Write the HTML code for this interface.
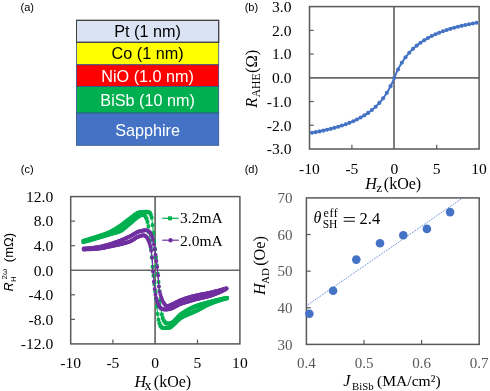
<!DOCTYPE html>
<html><head><meta charset="utf-8"><style>
html,body{margin:0;padding:0;background:#fff;width:490px;height:391px;overflow:hidden}
svg{display:block;will-change:transform;filter:blur(0.3px)}

</style></head><body>
<svg width="490" height="391" viewBox="0 0 490 391"><text x="20.6" y="11.2" font-family="Liberation Sans" font-size="11" fill="#000">(a)</text>
<text x="244.7" y="11.4" font-family="Liberation Sans" font-size="11" fill="#000">(b)</text>
<text x="20.8" y="172.8" font-family="Liberation Sans" font-size="11" fill="#000">(c)</text>
<text x="244.7" y="172.8" font-family="Liberation Sans" font-size="11" fill="#000">(d)</text>
<rect x="76.5" y="20.3" width="142.20" height="22.00" fill="#DAE3F3" stroke="#404040" stroke-width="1.0"/>
<rect x="76.5" y="42.3" width="142.20" height="22.50" fill="#FFFF00" stroke="#2F528F" stroke-width="0.8"/>
<rect x="76.5" y="64.8" width="142.20" height="21.60" fill="#FF0000" stroke="#2F528F" stroke-width="0.8"/>
<rect x="76.5" y="86.4" width="142.20" height="26.70" fill="#00B050" stroke="#2F528F" stroke-width="0.8"/>
<rect x="76.5" y="113.1" width="142.20" height="32.20" fill="#4472C4" stroke="#2F528F" stroke-width="0.8"/>
<text x="147.60" y="37.10" text-anchor="middle" font-family="Liberation Sans" font-size="16.2" fill="#000">Pt (1 nm)</text>
<text x="147.60" y="59.10" text-anchor="middle" font-family="Liberation Sans" font-size="16.2" fill="#000">Co (1 nm)</text>
<text x="147.60" y="81.70" text-anchor="middle" font-family="Liberation Sans" font-size="16.2" fill="#fff">NiO (1.0 nm)</text>
<text x="147.60" y="105.70" text-anchor="middle" font-family="Liberation Sans" font-size="16.2" fill="#fff">BiSb (10 nm)</text>
<text x="147.60" y="135.70" text-anchor="middle" font-family="Liberation Sans" font-size="16.2" fill="#fff">Sapphire</text>
<rect x="76.5" y="20.3" width="142.20" height="22.00" fill="none" stroke="#404040" stroke-width="1.0"/>
<line x1="309.5" y1="77.80" x2="479.1" y2="77.80" stroke="#686868" stroke-width="1.7"/>
<line x1="394.0" y1="6.6" x2="394.0" y2="149.0" stroke="#686868" stroke-width="1.7"/>
<line x1="309.5" y1="30.33" x2="313.8" y2="30.33" stroke="#595959" stroke-width="1.2"/>
<line x1="309.5" y1="54.07" x2="313.8" y2="54.07" stroke="#595959" stroke-width="1.2"/>
<line x1="309.5" y1="101.53" x2="313.8" y2="101.53" stroke="#595959" stroke-width="1.2"/>
<line x1="309.5" y1="125.27" x2="313.8" y2="125.27" stroke="#595959" stroke-width="1.2"/>
<line x1="351.90" y1="149.0" x2="351.90" y2="144.7" stroke="#595959" stroke-width="1.2"/>
<line x1="436.70" y1="149.0" x2="436.70" y2="144.7" stroke="#595959" stroke-width="1.2"/>
<rect x="309.5" y="6.6" width="169.60" height="142.40" fill="none" stroke="#595959" stroke-width="1.5"/>
<text x="291.50" y="11.90" text-anchor="end" font-family="Liberation Serif" font-size="15.6" fill="#000" >3.0</text>
<text x="291.50" y="35.63" text-anchor="end" font-family="Liberation Serif" font-size="15.6" fill="#000" >2.0</text>
<text x="291.50" y="59.37" text-anchor="end" font-family="Liberation Serif" font-size="15.6" fill="#000" >1.0</text>
<text x="291.50" y="83.10" text-anchor="end" font-family="Liberation Serif" font-size="15.6" fill="#000" >0.0</text>
<text x="291.50" y="106.83" text-anchor="end" font-family="Liberation Serif" font-size="15.6" fill="#000" >-1.0</text>
<text x="291.50" y="130.57" text-anchor="end" font-family="Liberation Serif" font-size="15.6" fill="#000" >-2.0</text>
<text x="291.50" y="154.30" text-anchor="end" font-family="Liberation Serif" font-size="15.6" fill="#000" >-3.0</text>
<text x="309.50" y="173.90" text-anchor="middle" font-family="Liberation Serif" font-size="15.6" fill="#000" >-10</text>
<text x="351.90" y="173.90" text-anchor="middle" font-family="Liberation Serif" font-size="15.6" fill="#000" >-5</text>
<text x="394.30" y="173.90" text-anchor="middle" font-family="Liberation Serif" font-size="15.6" fill="#000" >0</text>
<text x="436.70" y="173.90" text-anchor="middle" font-family="Liberation Serif" font-size="15.6" fill="#000" >5</text>
<text x="479.10" y="173.90" text-anchor="middle" font-family="Liberation Serif" font-size="15.6" fill="#000" >10</text>
<polyline fill="none" stroke="#4472C4" stroke-width="2.0" points="312.04,132.81 312.46,132.73 312.87,132.66 313.28,132.59 313.69,132.51 314.10,132.44 314.51,132.36 314.92,132.28 315.33,132.21 315.75,132.13 316.16,132.05 316.57,131.97 316.98,131.89 317.39,131.81 317.80,131.73 318.21,131.65 318.62,131.57 319.04,131.48 319.45,131.40 319.86,131.32 320.27,131.23 320.68,131.15 321.09,131.06 321.50,130.97 321.91,130.89 322.33,130.80 322.74,130.71 323.15,130.62 323.56,130.53 323.97,130.44 324.38,130.35 324.79,130.26 325.20,130.16 325.62,130.07 326.03,129.97 326.44,129.88 326.85,129.78 327.26,129.68 327.67,129.59 328.08,129.49 328.50,129.39 328.91,129.29 329.32,129.19 329.73,129.08 330.14,128.98 330.55,128.88 330.96,128.77 331.37,128.66 331.79,128.56 332.20,128.45 332.61,128.34 333.02,128.23 333.43,128.12 333.84,128.01 334.25,127.89 334.66,127.78 335.08,127.67 335.49,127.55 335.90,127.43 336.31,127.31 336.72,127.19 337.13,127.07 337.54,126.95 337.95,126.83 338.37,126.70 338.78,126.58 339.19,126.45 339.60,126.33 340.01,126.20 340.42,126.07 340.83,125.93 341.24,125.80 341.66,125.67 342.07,125.53 342.48,125.40 342.89,125.26 343.30,125.12 343.71,124.98 344.12,124.83 344.54,124.69 344.95,124.54 345.36,124.40 345.77,124.25 346.18,124.10 346.59,123.95 347.00,123.79 347.41,123.64 347.83,123.48 348.24,123.32 348.65,123.16 349.06,123.00 349.47,122.84 349.88,122.67 350.29,122.50 350.70,122.34 351.12,122.16 351.53,121.99 351.94,121.82 352.35,121.64 352.76,121.46 353.17,121.28 353.58,121.10 353.99,120.91 354.41,120.72 354.82,120.53 355.23,120.34 355.64,120.15 356.05,119.95 356.46,119.75 356.87,119.55 357.28,119.34 357.70,119.14 358.11,118.93 358.52,118.72 358.93,118.50 359.34,118.28 359.75,118.06 360.16,117.84 360.58,117.62 360.99,117.39 361.40,117.15 361.81,116.92 362.22,116.68 362.63,116.44 363.04,116.20 363.45,115.95 363.87,115.70 364.28,115.44 364.69,115.18 365.10,114.92 365.51,114.66 365.92,114.39 366.33,114.12 366.74,113.84 367.16,113.56 367.57,113.27 367.98,112.98 368.39,112.69 368.80,112.39 369.21,112.09 369.62,111.78 370.03,111.47 370.45,111.15 370.86,110.83 371.27,110.51 371.68,110.18 372.09,109.84 372.50,109.50 372.91,109.15 373.32,108.80 373.74,108.44 374.15,108.07 374.56,107.70 374.97,107.32 375.38,106.94 375.79,106.55 376.20,106.15 376.61,105.75 377.03,105.34 377.44,104.92 377.85,104.49 378.26,104.06 378.67,103.62 379.08,103.17 379.49,102.71 379.91,102.25 380.32,101.77 380.73,101.29 381.14,100.80 381.55,100.29 381.96,99.78 382.37,99.26 382.78,98.72 383.20,98.18 383.61,97.63 384.02,97.06 384.43,96.48 384.84,95.89 385.25,95.29 385.66,94.67 386.07,94.04 386.49,93.40 386.90,92.74 387.31,92.07 387.72,91.38 388.13,90.68 388.54,89.96 388.95,89.23 389.36,88.47 389.78,87.70 390.19,86.91 390.60,86.10 391.01,85.27 391.42,84.42 391.83,83.55 392.24,82.65 392.65,81.73 393.07,80.79 393.48,79.82 393.89,78.82 394.30,77.80 394.71,76.78 395.12,75.78 395.53,74.81 395.95,73.87 396.36,72.95 396.77,72.05 397.18,71.18 397.59,70.33 398.00,69.50 398.41,68.69 398.82,67.90 399.24,67.13 399.65,66.37 400.06,65.64 400.47,64.92 400.88,64.22 401.29,63.53 401.70,62.86 402.11,62.20 402.53,61.56 402.94,60.93 403.35,60.31 403.76,59.71 404.17,59.12 404.58,58.54 404.99,57.97 405.40,57.42 405.82,56.88 406.23,56.34 406.64,55.82 407.05,55.31 407.46,54.80 407.87,54.31 408.28,53.83 408.69,53.35 409.11,52.89 409.52,52.43 409.93,51.98 410.34,51.54 410.75,51.11 411.16,50.68 411.57,50.26 411.99,49.85 412.40,49.45 412.81,49.05 413.22,48.66 413.63,48.28 414.04,47.90 414.45,47.53 414.86,47.16 415.28,46.80 415.69,46.45 416.10,46.10 416.51,45.76 416.92,45.42 417.33,45.09 417.74,44.77 418.15,44.45 418.57,44.13 418.98,43.82 419.39,43.51 419.80,43.21 420.21,42.91 420.62,42.62 421.03,42.33 421.44,42.04 421.86,41.76 422.27,41.48 422.68,41.21 423.09,40.94 423.50,40.68 423.91,40.42 424.32,40.16 424.73,39.90 425.15,39.65 425.56,39.40 425.97,39.16 426.38,38.92 426.79,38.68 427.20,38.45 427.61,38.21 428.02,37.98 428.44,37.76 428.85,37.54 429.26,37.32 429.67,37.10 430.08,36.88 430.49,36.67 430.90,36.46 431.32,36.26 431.73,36.05 432.14,35.85 432.55,35.65 432.96,35.45 433.37,35.26 433.78,35.07 434.19,34.88 434.61,34.69 435.02,34.50 435.43,34.32 435.84,34.14 436.25,33.96 436.66,33.78 437.07,33.61 437.48,33.44 437.90,33.26 438.31,33.10 438.72,32.93 439.13,32.76 439.54,32.60 439.95,32.44 440.36,32.28 440.77,32.12 441.19,31.96 441.60,31.81 442.01,31.65 442.42,31.50 442.83,31.35 443.24,31.20 443.65,31.06 444.06,30.91 444.48,30.77 444.89,30.62 445.30,30.48 445.71,30.34 446.12,30.20 446.53,30.07 446.94,29.93 447.36,29.80 447.77,29.67 448.18,29.53 448.59,29.40 449.00,29.27 449.41,29.15 449.82,29.02 450.23,28.90 450.65,28.77 451.06,28.65 451.47,28.53 451.88,28.41 452.29,28.29 452.70,28.17 453.11,28.05 453.52,27.93 453.94,27.82 454.35,27.71 454.76,27.59 455.17,27.48 455.58,27.37 455.99,27.26 456.40,27.15 456.81,27.04 457.23,26.94 457.64,26.83 458.05,26.72 458.46,26.62 458.87,26.52 459.28,26.41 459.69,26.31 460.10,26.21 460.52,26.11 460.93,26.01 461.34,25.92 461.75,25.82 462.16,25.72 462.57,25.63 462.98,25.53 463.40,25.44 463.81,25.34 464.22,25.25 464.63,25.16 465.04,25.07 465.45,24.98 465.86,24.89 466.27,24.80 466.69,24.71 467.10,24.63 467.51,24.54 467.92,24.45 468.33,24.37 468.74,24.28 469.15,24.20 469.56,24.12 469.98,24.03 470.39,23.95 470.80,23.87 471.21,23.79 471.62,23.71 472.03,23.63 472.44,23.55 472.85,23.47 473.27,23.39 473.68,23.32 474.09,23.24 474.50,23.16 474.91,23.09 475.32,23.01 475.73,22.94 476.14,22.87 476.56,22.79"/>
<g fill="#4472C4"><circle cx="312.04" cy="132.81" r="2.05"/><circle cx="315.78" cy="132.12" r="2.05"/><circle cx="319.52" cy="131.39" r="2.05"/><circle cx="323.26" cy="130.60" r="2.05"/><circle cx="327.00" cy="129.75" r="2.05"/><circle cx="330.74" cy="128.83" r="2.05"/><circle cx="334.48" cy="127.83" r="2.05"/><circle cx="338.22" cy="126.75" r="2.05"/><circle cx="341.96" cy="125.57" r="2.05"/><circle cx="345.69" cy="124.28" r="2.05"/><circle cx="349.43" cy="122.85" r="2.05"/><circle cx="353.17" cy="121.28" r="2.05"/><circle cx="356.91" cy="119.53" r="2.05"/><circle cx="360.65" cy="117.57" r="2.05"/><circle cx="364.39" cy="115.37" r="2.05"/><circle cx="368.13" cy="112.88" r="2.05"/><circle cx="371.87" cy="110.02" r="2.05"/><circle cx="375.61" cy="106.73" r="2.05"/><circle cx="379.34" cy="102.88" r="2.05"/><circle cx="383.08" cy="98.33" r="2.05"/><circle cx="386.82" cy="92.86" r="2.05"/><circle cx="390.56" cy="86.17" r="2.05"/><circle cx="394.30" cy="77.80" r="2.05"/><circle cx="398.04" cy="69.43" r="2.05"/><circle cx="401.78" cy="62.74" r="2.05"/><circle cx="405.52" cy="57.27" r="2.05"/><circle cx="409.26" cy="52.72" r="2.05"/><circle cx="412.99" cy="48.87" r="2.05"/><circle cx="416.73" cy="45.58" r="2.05"/><circle cx="420.47" cy="42.72" r="2.05"/><circle cx="424.21" cy="40.23" r="2.05"/><circle cx="427.95" cy="38.03" r="2.05"/><circle cx="431.69" cy="36.07" r="2.05"/><circle cx="435.43" cy="34.32" r="2.05"/><circle cx="439.17" cy="32.75" r="2.05"/><circle cx="442.91" cy="31.32" r="2.05"/><circle cx="446.64" cy="30.03" r="2.05"/><circle cx="450.38" cy="28.85" r="2.05"/><circle cx="454.12" cy="27.77" r="2.05"/><circle cx="457.86" cy="26.77" r="2.05"/><circle cx="461.60" cy="25.85" r="2.05"/><circle cx="465.34" cy="25.00" r="2.05"/><circle cx="469.08" cy="24.21" r="2.05"/><circle cx="472.82" cy="23.48" r="2.05"/><circle cx="476.56" cy="22.79" r="2.05"/></g>
<g transform="translate(257.3,107.2) rotate(-90)" font-family="Liberation Serif" fill="#000"><text x="-0.5" y="0" font-size="16.3" font-style="italic">R</text><text x="10" y="3" font-size="11.5">AHE</text><text x="34.2" y="0" font-size="16.5">(Ω)</text></g>
<g font-family="Liberation Serif" fill="#000"><text x="365.2" y="188.6" font-size="16" font-style="italic">H</text><text x="376.2" y="191.6" font-size="13.5">z</text><text x="383.8" y="189" font-size="16">(kOe)</text></g>
<line x1="70.7" y1="270.25" x2="239.9" y2="270.25" stroke="#686868" stroke-width="1.7"/>
<line x1="155.1" y1="196.6" x2="155.1" y2="343.9" stroke="#686868" stroke-width="1.7"/>
<line x1="70.7" y1="221.15" x2="75.0" y2="221.15" stroke="#595959" stroke-width="1.2"/>
<line x1="70.7" y1="245.70" x2="75.0" y2="245.70" stroke="#595959" stroke-width="1.2"/>
<line x1="70.7" y1="294.80" x2="75.0" y2="294.80" stroke="#595959" stroke-width="1.2"/>
<line x1="70.7" y1="319.35" x2="75.0" y2="319.35" stroke="#595959" stroke-width="1.2"/>
<line x1="112.90" y1="343.9" x2="112.90" y2="339.59999999999997" stroke="#595959" stroke-width="1.2"/>
<line x1="197.50" y1="343.9" x2="197.50" y2="339.59999999999997" stroke="#595959" stroke-width="1.2"/>
<rect x="70.7" y="196.6" width="169.20" height="147.30" fill="none" stroke="#595959" stroke-width="1.5"/>
<text x="53.30" y="201.90" text-anchor="end" font-family="Liberation Serif" font-size="15.6" fill="#000" >12.0</text>
<text x="53.30" y="226.45" text-anchor="end" font-family="Liberation Serif" font-size="15.6" fill="#000" >8.0</text>
<text x="53.30" y="251.00" text-anchor="end" font-family="Liberation Serif" font-size="15.6" fill="#000" >4.0</text>
<text x="53.30" y="275.55" text-anchor="end" font-family="Liberation Serif" font-size="15.6" fill="#000" >0.0</text>
<text x="53.30" y="300.10" text-anchor="end" font-family="Liberation Serif" font-size="15.6" fill="#000" >-4.0</text>
<text x="53.30" y="324.65" text-anchor="end" font-family="Liberation Serif" font-size="15.6" fill="#000" >-8.0</text>
<text x="53.30" y="349.20" text-anchor="end" font-family="Liberation Serif" font-size="15.6" fill="#000" >-12.0</text>
<text x="70.70" y="367.90" text-anchor="middle" font-family="Liberation Serif" font-size="15.6" fill="#000" >-10</text>
<text x="112.90" y="367.90" text-anchor="middle" font-family="Liberation Serif" font-size="15.6" fill="#000" >-5</text>
<text x="155.10" y="367.90" text-anchor="middle" font-family="Liberation Serif" font-size="15.6" fill="#000" >0</text>
<text x="197.50" y="367.90" text-anchor="middle" font-family="Liberation Serif" font-size="15.6" fill="#000" >5</text>
<text x="239.90" y="367.90" text-anchor="middle" font-family="Liberation Serif" font-size="15.6" fill="#000" >10</text>
<polyline fill="none" stroke="#00B050" stroke-width="1.1" points="83.30,241.00 84.14,240.75 84.99,240.50 85.83,240.25 86.68,239.99 87.52,239.73 88.37,239.47 89.21,239.21 90.06,238.95 90.90,238.68 91.75,238.42 92.59,238.15 93.44,237.88 94.28,237.60 95.13,237.33 95.97,237.07 96.82,236.80 97.66,236.54 98.51,236.27 99.35,236.01 100.20,235.74 101.04,235.47 101.89,235.20 102.73,234.92 103.58,234.63 104.42,234.33 105.27,234.03 106.11,233.71 106.96,233.38 107.80,233.04 108.65,232.68 109.49,232.30 110.34,231.90 111.18,231.48 112.03,231.04 112.87,230.58 113.72,230.10 114.56,229.61 115.41,229.11 116.25,228.59 117.10,228.06 117.94,227.53 118.79,226.99 119.63,226.44 120.48,225.88 121.32,225.29 122.17,224.67 123.01,224.02 123.86,223.36 124.70,222.68 125.55,222.00 126.39,221.32 127.24,220.65 128.08,220.00 128.93,219.36 129.77,218.76 130.62,218.16 131.46,217.53 132.31,216.87 133.15,216.21 134.00,215.55 134.84,214.91 135.69,214.30 136.53,213.75 137.38,213.25 138.22,212.84 139.07,212.52 139.91,212.31 140.76,212.18 141.60,212.05 142.45,211.94 143.29,211.85 144.14,211.77 144.98,211.72 145.83,211.70 146.67,211.74 147.52,211.90 148.36,212.18 149.21,212.55 150.05,213.21 150.90,214.81 151.74,217.64 152.59,225.05 153.43,232.96 154.28,241.05 155.12,249.28 155.97,257.39 156.81,265.54 157.66,273.73 158.50,281.98 159.35,291.13 160.19,300.45 161.04,308.69 161.88,314.42 162.73,318.00 163.57,320.29 164.42,321.54 165.26,322.56 166.11,323.28 166.95,323.59 167.80,323.59 168.64,323.54 169.49,323.46 170.33,323.37 171.18,323.13 172.02,322.71 172.87,322.16 173.71,321.47 174.56,320.70 175.40,319.85 176.25,318.96 177.09,318.04 177.94,317.13 178.78,316.25 179.63,315.43 180.47,314.69 181.32,314.05 182.16,313.50 183.01,312.95 183.85,312.41 184.70,311.88 185.54,311.36 186.39,310.85 187.23,310.35 188.08,309.87 188.92,309.40 189.77,308.94 190.61,308.50 191.46,308.08 192.30,307.67 193.15,307.27 193.99,306.90 194.84,306.54 195.68,306.21 196.53,305.89 197.37,305.58 198.22,305.28 199.06,305.00 199.91,304.73 200.75,304.46 201.60,304.21 202.44,303.96 203.29,303.72 204.13,303.48 204.98,303.25 205.82,303.02 206.67,302.79 207.51,302.57 208.36,302.34 209.20,302.12 210.05,301.89 210.89,301.66 211.74,301.43 212.58,301.21 213.43,300.98 214.27,300.76 215.12,300.54 215.96,300.32 216.81,300.11 217.65,299.90 218.50,299.69 219.34,299.48 220.19,299.27 221.03,299.07 221.88,298.87 222.72,298.67 223.57,298.47 224.41,298.28 225.26,298.09 226.10,297.90 226.95,297.71"/>
<g fill="#00B050"><rect x="81.50" y="239.20" width="3.6" height="3.6"/><rect x="82.34" y="238.95" width="3.6" height="3.6"/><rect x="83.19" y="238.70" width="3.6" height="3.6"/><rect x="84.03" y="238.45" width="3.6" height="3.6"/><rect x="84.88" y="238.19" width="3.6" height="3.6"/><rect x="85.72" y="237.93" width="3.6" height="3.6"/><rect x="86.57" y="237.67" width="3.6" height="3.6"/><rect x="87.41" y="237.41" width="3.6" height="3.6"/><rect x="88.26" y="237.15" width="3.6" height="3.6"/><rect x="89.10" y="236.88" width="3.6" height="3.6"/><rect x="89.95" y="236.62" width="3.6" height="3.6"/><rect x="90.79" y="236.35" width="3.6" height="3.6"/><rect x="91.64" y="236.08" width="3.6" height="3.6"/><rect x="92.48" y="235.80" width="3.6" height="3.6"/><rect x="93.33" y="235.53" width="3.6" height="3.6"/><rect x="94.17" y="235.27" width="3.6" height="3.6"/><rect x="95.02" y="235.00" width="3.6" height="3.6"/><rect x="95.86" y="234.74" width="3.6" height="3.6"/><rect x="96.71" y="234.47" width="3.6" height="3.6"/><rect x="97.55" y="234.21" width="3.6" height="3.6"/><rect x="98.40" y="233.94" width="3.6" height="3.6"/><rect x="99.24" y="233.67" width="3.6" height="3.6"/><rect x="100.09" y="233.40" width="3.6" height="3.6"/><rect x="100.93" y="233.12" width="3.6" height="3.6"/><rect x="101.78" y="232.83" width="3.6" height="3.6"/><rect x="102.62" y="232.53" width="3.6" height="3.6"/><rect x="103.47" y="232.23" width="3.6" height="3.6"/><rect x="104.31" y="231.91" width="3.6" height="3.6"/><rect x="105.16" y="231.58" width="3.6" height="3.6"/><rect x="106.00" y="231.24" width="3.6" height="3.6"/><rect x="106.85" y="230.88" width="3.6" height="3.6"/><rect x="107.69" y="230.50" width="3.6" height="3.6"/><rect x="108.54" y="230.10" width="3.6" height="3.6"/><rect x="109.38" y="229.68" width="3.6" height="3.6"/><rect x="110.23" y="229.24" width="3.6" height="3.6"/><rect x="111.07" y="228.78" width="3.6" height="3.6"/><rect x="111.92" y="228.30" width="3.6" height="3.6"/><rect x="112.76" y="227.81" width="3.6" height="3.6"/><rect x="113.61" y="227.31" width="3.6" height="3.6"/><rect x="114.45" y="226.79" width="3.6" height="3.6"/><rect x="115.30" y="226.26" width="3.6" height="3.6"/><rect x="116.14" y="225.73" width="3.6" height="3.6"/><rect x="116.99" y="225.19" width="3.6" height="3.6"/><rect x="117.83" y="224.64" width="3.6" height="3.6"/><rect x="118.68" y="224.08" width="3.6" height="3.6"/><rect x="119.52" y="223.49" width="3.6" height="3.6"/><rect x="120.37" y="222.87" width="3.6" height="3.6"/><rect x="121.21" y="222.22" width="3.6" height="3.6"/><rect x="122.06" y="221.56" width="3.6" height="3.6"/><rect x="122.90" y="220.88" width="3.6" height="3.6"/><rect x="123.75" y="220.20" width="3.6" height="3.6"/><rect x="124.59" y="219.52" width="3.6" height="3.6"/><rect x="125.44" y="218.85" width="3.6" height="3.6"/><rect x="126.28" y="218.20" width="3.6" height="3.6"/><rect x="127.13" y="217.56" width="3.6" height="3.6"/><rect x="127.97" y="216.96" width="3.6" height="3.6"/><rect x="128.82" y="216.36" width="3.6" height="3.6"/><rect x="129.66" y="215.73" width="3.6" height="3.6"/><rect x="130.51" y="215.07" width="3.6" height="3.6"/><rect x="131.35" y="214.41" width="3.6" height="3.6"/><rect x="132.20" y="213.75" width="3.6" height="3.6"/><rect x="133.04" y="213.11" width="3.6" height="3.6"/><rect x="133.89" y="212.50" width="3.6" height="3.6"/><rect x="134.73" y="211.95" width="3.6" height="3.6"/><rect x="135.58" y="211.45" width="3.6" height="3.6"/><rect x="136.42" y="211.04" width="3.6" height="3.6"/><rect x="137.27" y="210.72" width="3.6" height="3.6"/><rect x="138.11" y="210.51" width="3.6" height="3.6"/><rect x="138.96" y="210.38" width="3.6" height="3.6"/><rect x="139.80" y="210.25" width="3.6" height="3.6"/><rect x="140.65" y="210.14" width="3.6" height="3.6"/><rect x="141.49" y="210.05" width="3.6" height="3.6"/><rect x="142.34" y="209.97" width="3.6" height="3.6"/><rect x="143.18" y="209.92" width="3.6" height="3.6"/><rect x="144.03" y="209.90" width="3.6" height="3.6"/><rect x="144.87" y="209.94" width="3.6" height="3.6"/><rect x="145.72" y="210.10" width="3.6" height="3.6"/><rect x="146.56" y="210.38" width="3.6" height="3.6"/><rect x="147.41" y="210.75" width="3.6" height="3.6"/><rect x="148.25" y="211.41" width="3.6" height="3.6"/><rect x="149.10" y="213.01" width="3.6" height="3.6"/><rect x="149.94" y="215.84" width="3.6" height="3.6"/><rect x="150.79" y="223.25" width="3.6" height="3.6"/><rect x="151.63" y="231.16" width="3.6" height="3.6"/><rect x="152.48" y="239.25" width="3.6" height="3.6"/><rect x="153.32" y="247.48" width="3.6" height="3.6"/><rect x="154.17" y="255.59" width="3.6" height="3.6"/><rect x="155.01" y="263.74" width="3.6" height="3.6"/><rect x="155.86" y="271.93" width="3.6" height="3.6"/><rect x="156.70" y="280.18" width="3.6" height="3.6"/><rect x="157.55" y="289.33" width="3.6" height="3.6"/><rect x="158.39" y="298.65" width="3.6" height="3.6"/><rect x="159.24" y="306.89" width="3.6" height="3.6"/><rect x="160.08" y="312.62" width="3.6" height="3.6"/><rect x="160.93" y="316.20" width="3.6" height="3.6"/><rect x="161.77" y="318.49" width="3.6" height="3.6"/><rect x="162.62" y="319.74" width="3.6" height="3.6"/><rect x="163.46" y="320.76" width="3.6" height="3.6"/><rect x="164.31" y="321.48" width="3.6" height="3.6"/><rect x="165.15" y="321.79" width="3.6" height="3.6"/><rect x="166.00" y="321.79" width="3.6" height="3.6"/><rect x="166.84" y="321.74" width="3.6" height="3.6"/><rect x="167.69" y="321.66" width="3.6" height="3.6"/><rect x="168.53" y="321.57" width="3.6" height="3.6"/><rect x="169.38" y="321.33" width="3.6" height="3.6"/><rect x="170.22" y="320.91" width="3.6" height="3.6"/><rect x="171.07" y="320.36" width="3.6" height="3.6"/><rect x="171.91" y="319.67" width="3.6" height="3.6"/><rect x="172.76" y="318.90" width="3.6" height="3.6"/><rect x="173.60" y="318.05" width="3.6" height="3.6"/><rect x="174.45" y="317.16" width="3.6" height="3.6"/><rect x="175.29" y="316.24" width="3.6" height="3.6"/><rect x="176.14" y="315.33" width="3.6" height="3.6"/><rect x="176.98" y="314.45" width="3.6" height="3.6"/><rect x="177.83" y="313.63" width="3.6" height="3.6"/><rect x="178.67" y="312.89" width="3.6" height="3.6"/><rect x="179.52" y="312.25" width="3.6" height="3.6"/><rect x="180.36" y="311.70" width="3.6" height="3.6"/><rect x="181.21" y="311.15" width="3.6" height="3.6"/><rect x="182.05" y="310.61" width="3.6" height="3.6"/><rect x="182.90" y="310.08" width="3.6" height="3.6"/><rect x="183.74" y="309.56" width="3.6" height="3.6"/><rect x="184.59" y="309.05" width="3.6" height="3.6"/><rect x="185.43" y="308.55" width="3.6" height="3.6"/><rect x="186.28" y="308.07" width="3.6" height="3.6"/><rect x="187.12" y="307.60" width="3.6" height="3.6"/><rect x="187.97" y="307.14" width="3.6" height="3.6"/><rect x="188.81" y="306.70" width="3.6" height="3.6"/><rect x="189.66" y="306.28" width="3.6" height="3.6"/><rect x="190.50" y="305.87" width="3.6" height="3.6"/><rect x="191.35" y="305.47" width="3.6" height="3.6"/><rect x="192.19" y="305.10" width="3.6" height="3.6"/><rect x="193.04" y="304.74" width="3.6" height="3.6"/><rect x="193.88" y="304.41" width="3.6" height="3.6"/><rect x="194.73" y="304.09" width="3.6" height="3.6"/><rect x="195.57" y="303.78" width="3.6" height="3.6"/><rect x="196.42" y="303.48" width="3.6" height="3.6"/><rect x="197.26" y="303.20" width="3.6" height="3.6"/><rect x="198.11" y="302.93" width="3.6" height="3.6"/><rect x="198.95" y="302.66" width="3.6" height="3.6"/><rect x="199.80" y="302.41" width="3.6" height="3.6"/><rect x="200.64" y="302.16" width="3.6" height="3.6"/><rect x="201.49" y="301.92" width="3.6" height="3.6"/><rect x="202.33" y="301.68" width="3.6" height="3.6"/><rect x="203.18" y="301.45" width="3.6" height="3.6"/><rect x="204.02" y="301.22" width="3.6" height="3.6"/><rect x="204.87" y="300.99" width="3.6" height="3.6"/><rect x="205.71" y="300.77" width="3.6" height="3.6"/><rect x="206.56" y="300.54" width="3.6" height="3.6"/><rect x="207.40" y="300.32" width="3.6" height="3.6"/><rect x="208.25" y="300.09" width="3.6" height="3.6"/><rect x="209.09" y="299.86" width="3.6" height="3.6"/><rect x="209.94" y="299.63" width="3.6" height="3.6"/><rect x="210.78" y="299.41" width="3.6" height="3.6"/><rect x="211.63" y="299.18" width="3.6" height="3.6"/><rect x="212.47" y="298.96" width="3.6" height="3.6"/><rect x="213.32" y="298.74" width="3.6" height="3.6"/><rect x="214.16" y="298.52" width="3.6" height="3.6"/><rect x="215.01" y="298.31" width="3.6" height="3.6"/><rect x="215.85" y="298.10" width="3.6" height="3.6"/><rect x="216.70" y="297.89" width="3.6" height="3.6"/><rect x="217.54" y="297.68" width="3.6" height="3.6"/><rect x="218.39" y="297.47" width="3.6" height="3.6"/><rect x="219.23" y="297.27" width="3.6" height="3.6"/><rect x="220.08" y="297.07" width="3.6" height="3.6"/><rect x="220.92" y="296.87" width="3.6" height="3.6"/><rect x="221.77" y="296.67" width="3.6" height="3.6"/><rect x="222.61" y="296.48" width="3.6" height="3.6"/><rect x="223.46" y="296.29" width="3.6" height="3.6"/><rect x="224.30" y="296.10" width="3.6" height="3.6"/><rect x="225.15" y="295.91" width="3.6" height="3.6"/></g>
<polyline fill="none" stroke="#00B050" stroke-width="1.1" points="83.30,242.00 84.14,241.77 84.99,241.54 85.83,241.30 86.68,241.07 87.52,240.83 88.37,240.59 89.21,240.36 90.06,240.12 90.90,239.88 91.75,239.64 92.59,239.39 93.44,239.15 94.28,238.90 95.13,238.66 95.97,238.41 96.82,238.16 97.66,237.91 98.51,237.66 99.35,237.41 100.20,237.15 101.04,236.90 101.89,236.64 102.73,236.38 103.58,236.13 104.42,235.87 105.27,235.61 106.11,235.36 106.96,235.10 107.80,234.84 108.65,234.58 109.49,234.34 110.34,234.10 111.18,233.87 112.03,233.65 112.87,233.43 113.72,233.21 114.56,232.98 115.41,232.74 116.25,232.48 117.10,232.21 117.94,231.92 118.79,231.60 119.63,231.26 120.48,230.87 121.32,230.41 122.17,229.87 123.01,229.26 123.86,228.61 124.70,227.91 125.55,227.19 126.39,226.45 127.24,225.71 128.08,224.98 128.93,224.26 129.77,223.58 130.62,222.91 131.46,222.20 132.31,221.46 133.15,220.70 134.00,219.94 134.84,219.19 135.69,218.46 136.53,217.77 137.38,217.13 138.22,216.55 139.07,216.05 139.91,215.64 140.76,215.27 141.60,214.92 142.45,214.65 143.29,214.51 144.14,214.74 144.98,215.69 145.83,217.14 146.67,218.91 147.52,221.91 148.36,226.23 149.21,232.48 150.05,240.51 150.90,248.63 151.74,257.29 152.59,266.78 153.43,275.77 154.28,283.90 155.12,291.25 155.97,298.55 156.81,306.58 157.66,313.97 158.50,319.69 159.35,323.19 160.19,325.53 161.04,326.60 161.88,327.38 162.73,327.93 163.57,328.19 164.42,328.20 165.26,328.20 166.11,328.20 166.95,328.20 167.80,328.14 168.64,327.94 169.49,327.59 170.33,327.12 171.18,326.55 172.02,325.89 172.87,325.16 173.71,324.37 174.56,323.54 175.40,322.70 176.25,321.84 177.09,321.00 177.94,320.19 178.78,319.42 179.63,318.71 180.47,318.08 181.32,317.55 182.16,317.08 183.01,316.64 183.85,316.22 184.70,315.82 185.54,315.43 186.39,315.06 187.23,314.70 188.08,314.35 188.92,314.00 189.77,313.65 190.61,313.31 191.46,312.96 192.30,312.61 193.15,312.25 193.99,311.88 194.84,311.50 195.68,311.11 196.53,310.70 197.37,310.27 198.22,309.83 199.06,309.38 199.91,308.92 200.75,308.46 201.60,308.00 202.44,307.53 203.29,307.07 204.13,306.61 204.98,306.16 205.82,305.73 206.67,305.30 207.51,304.89 208.36,304.50 209.20,304.13 210.05,303.78 210.89,303.45 211.74,303.12 212.58,302.79 213.43,302.47 214.27,302.16 215.12,301.85 215.96,301.54 216.81,301.25 217.65,300.96 218.50,300.67 219.34,300.40 220.19,300.13 221.03,299.87 221.88,299.62 222.72,299.38 223.57,299.15 224.41,298.92 225.26,298.71 226.10,298.50 226.95,298.31"/>
<g fill="#00B050"><rect x="81.50" y="240.20" width="3.6" height="3.6"/><rect x="82.34" y="239.97" width="3.6" height="3.6"/><rect x="83.19" y="239.74" width="3.6" height="3.6"/><rect x="84.03" y="239.50" width="3.6" height="3.6"/><rect x="84.88" y="239.27" width="3.6" height="3.6"/><rect x="85.72" y="239.03" width="3.6" height="3.6"/><rect x="86.57" y="238.79" width="3.6" height="3.6"/><rect x="87.41" y="238.56" width="3.6" height="3.6"/><rect x="88.26" y="238.32" width="3.6" height="3.6"/><rect x="89.10" y="238.08" width="3.6" height="3.6"/><rect x="89.95" y="237.84" width="3.6" height="3.6"/><rect x="90.79" y="237.59" width="3.6" height="3.6"/><rect x="91.64" y="237.35" width="3.6" height="3.6"/><rect x="92.48" y="237.10" width="3.6" height="3.6"/><rect x="93.33" y="236.86" width="3.6" height="3.6"/><rect x="94.17" y="236.61" width="3.6" height="3.6"/><rect x="95.02" y="236.36" width="3.6" height="3.6"/><rect x="95.86" y="236.11" width="3.6" height="3.6"/><rect x="96.71" y="235.86" width="3.6" height="3.6"/><rect x="97.55" y="235.61" width="3.6" height="3.6"/><rect x="98.40" y="235.35" width="3.6" height="3.6"/><rect x="99.24" y="235.10" width="3.6" height="3.6"/><rect x="100.09" y="234.84" width="3.6" height="3.6"/><rect x="100.93" y="234.58" width="3.6" height="3.6"/><rect x="101.78" y="234.33" width="3.6" height="3.6"/><rect x="102.62" y="234.07" width="3.6" height="3.6"/><rect x="103.47" y="233.81" width="3.6" height="3.6"/><rect x="104.31" y="233.56" width="3.6" height="3.6"/><rect x="105.16" y="233.30" width="3.6" height="3.6"/><rect x="106.00" y="233.04" width="3.6" height="3.6"/><rect x="106.85" y="232.78" width="3.6" height="3.6"/><rect x="107.69" y="232.54" width="3.6" height="3.6"/><rect x="108.54" y="232.30" width="3.6" height="3.6"/><rect x="109.38" y="232.07" width="3.6" height="3.6"/><rect x="110.23" y="231.85" width="3.6" height="3.6"/><rect x="111.07" y="231.63" width="3.6" height="3.6"/><rect x="111.92" y="231.41" width="3.6" height="3.6"/><rect x="112.76" y="231.18" width="3.6" height="3.6"/><rect x="113.61" y="230.94" width="3.6" height="3.6"/><rect x="114.45" y="230.68" width="3.6" height="3.6"/><rect x="115.30" y="230.41" width="3.6" height="3.6"/><rect x="116.14" y="230.12" width="3.6" height="3.6"/><rect x="116.99" y="229.80" width="3.6" height="3.6"/><rect x="117.83" y="229.46" width="3.6" height="3.6"/><rect x="118.68" y="229.07" width="3.6" height="3.6"/><rect x="119.52" y="228.61" width="3.6" height="3.6"/><rect x="120.37" y="228.07" width="3.6" height="3.6"/><rect x="121.21" y="227.46" width="3.6" height="3.6"/><rect x="122.06" y="226.81" width="3.6" height="3.6"/><rect x="122.90" y="226.11" width="3.6" height="3.6"/><rect x="123.75" y="225.39" width="3.6" height="3.6"/><rect x="124.59" y="224.65" width="3.6" height="3.6"/><rect x="125.44" y="223.91" width="3.6" height="3.6"/><rect x="126.28" y="223.18" width="3.6" height="3.6"/><rect x="127.13" y="222.46" width="3.6" height="3.6"/><rect x="127.97" y="221.78" width="3.6" height="3.6"/><rect x="128.82" y="221.11" width="3.6" height="3.6"/><rect x="129.66" y="220.40" width="3.6" height="3.6"/><rect x="130.51" y="219.66" width="3.6" height="3.6"/><rect x="131.35" y="218.90" width="3.6" height="3.6"/><rect x="132.20" y="218.14" width="3.6" height="3.6"/><rect x="133.04" y="217.39" width="3.6" height="3.6"/><rect x="133.89" y="216.66" width="3.6" height="3.6"/><rect x="134.73" y="215.97" width="3.6" height="3.6"/><rect x="135.58" y="215.33" width="3.6" height="3.6"/><rect x="136.42" y="214.75" width="3.6" height="3.6"/><rect x="137.27" y="214.25" width="3.6" height="3.6"/><rect x="138.11" y="213.84" width="3.6" height="3.6"/><rect x="138.96" y="213.47" width="3.6" height="3.6"/><rect x="139.80" y="213.12" width="3.6" height="3.6"/><rect x="140.65" y="212.85" width="3.6" height="3.6"/><rect x="141.49" y="212.71" width="3.6" height="3.6"/><rect x="142.34" y="212.94" width="3.6" height="3.6"/><rect x="143.18" y="213.89" width="3.6" height="3.6"/><rect x="144.03" y="215.34" width="3.6" height="3.6"/><rect x="144.87" y="217.11" width="3.6" height="3.6"/><rect x="145.72" y="220.11" width="3.6" height="3.6"/><rect x="146.56" y="224.43" width="3.6" height="3.6"/><rect x="147.41" y="230.68" width="3.6" height="3.6"/><rect x="148.25" y="238.71" width="3.6" height="3.6"/><rect x="149.10" y="246.83" width="3.6" height="3.6"/><rect x="149.94" y="255.49" width="3.6" height="3.6"/><rect x="150.79" y="264.98" width="3.6" height="3.6"/><rect x="151.63" y="273.97" width="3.6" height="3.6"/><rect x="152.48" y="282.10" width="3.6" height="3.6"/><rect x="153.32" y="289.45" width="3.6" height="3.6"/><rect x="154.17" y="296.75" width="3.6" height="3.6"/><rect x="155.01" y="304.78" width="3.6" height="3.6"/><rect x="155.86" y="312.17" width="3.6" height="3.6"/><rect x="156.70" y="317.89" width="3.6" height="3.6"/><rect x="157.55" y="321.39" width="3.6" height="3.6"/><rect x="158.39" y="323.73" width="3.6" height="3.6"/><rect x="159.24" y="324.80" width="3.6" height="3.6"/><rect x="160.08" y="325.58" width="3.6" height="3.6"/><rect x="160.93" y="326.13" width="3.6" height="3.6"/><rect x="161.77" y="326.39" width="3.6" height="3.6"/><rect x="162.62" y="326.40" width="3.6" height="3.6"/><rect x="163.46" y="326.40" width="3.6" height="3.6"/><rect x="164.31" y="326.40" width="3.6" height="3.6"/><rect x="165.15" y="326.40" width="3.6" height="3.6"/><rect x="166.00" y="326.34" width="3.6" height="3.6"/><rect x="166.84" y="326.14" width="3.6" height="3.6"/><rect x="167.69" y="325.79" width="3.6" height="3.6"/><rect x="168.53" y="325.32" width="3.6" height="3.6"/><rect x="169.38" y="324.75" width="3.6" height="3.6"/><rect x="170.22" y="324.09" width="3.6" height="3.6"/><rect x="171.07" y="323.36" width="3.6" height="3.6"/><rect x="171.91" y="322.57" width="3.6" height="3.6"/><rect x="172.76" y="321.74" width="3.6" height="3.6"/><rect x="173.60" y="320.90" width="3.6" height="3.6"/><rect x="174.45" y="320.04" width="3.6" height="3.6"/><rect x="175.29" y="319.20" width="3.6" height="3.6"/><rect x="176.14" y="318.39" width="3.6" height="3.6"/><rect x="176.98" y="317.62" width="3.6" height="3.6"/><rect x="177.83" y="316.91" width="3.6" height="3.6"/><rect x="178.67" y="316.28" width="3.6" height="3.6"/><rect x="179.52" y="315.75" width="3.6" height="3.6"/><rect x="180.36" y="315.28" width="3.6" height="3.6"/><rect x="181.21" y="314.84" width="3.6" height="3.6"/><rect x="182.05" y="314.42" width="3.6" height="3.6"/><rect x="182.90" y="314.02" width="3.6" height="3.6"/><rect x="183.74" y="313.63" width="3.6" height="3.6"/><rect x="184.59" y="313.26" width="3.6" height="3.6"/><rect x="185.43" y="312.90" width="3.6" height="3.6"/><rect x="186.28" y="312.55" width="3.6" height="3.6"/><rect x="187.12" y="312.20" width="3.6" height="3.6"/><rect x="187.97" y="311.85" width="3.6" height="3.6"/><rect x="188.81" y="311.51" width="3.6" height="3.6"/><rect x="189.66" y="311.16" width="3.6" height="3.6"/><rect x="190.50" y="310.81" width="3.6" height="3.6"/><rect x="191.35" y="310.45" width="3.6" height="3.6"/><rect x="192.19" y="310.08" width="3.6" height="3.6"/><rect x="193.04" y="309.70" width="3.6" height="3.6"/><rect x="193.88" y="309.31" width="3.6" height="3.6"/><rect x="194.73" y="308.90" width="3.6" height="3.6"/><rect x="195.57" y="308.47" width="3.6" height="3.6"/><rect x="196.42" y="308.03" width="3.6" height="3.6"/><rect x="197.26" y="307.58" width="3.6" height="3.6"/><rect x="198.11" y="307.12" width="3.6" height="3.6"/><rect x="198.95" y="306.66" width="3.6" height="3.6"/><rect x="199.80" y="306.20" width="3.6" height="3.6"/><rect x="200.64" y="305.73" width="3.6" height="3.6"/><rect x="201.49" y="305.27" width="3.6" height="3.6"/><rect x="202.33" y="304.81" width="3.6" height="3.6"/><rect x="203.18" y="304.36" width="3.6" height="3.6"/><rect x="204.02" y="303.93" width="3.6" height="3.6"/><rect x="204.87" y="303.50" width="3.6" height="3.6"/><rect x="205.71" y="303.09" width="3.6" height="3.6"/><rect x="206.56" y="302.70" width="3.6" height="3.6"/><rect x="207.40" y="302.33" width="3.6" height="3.6"/><rect x="208.25" y="301.98" width="3.6" height="3.6"/><rect x="209.09" y="301.65" width="3.6" height="3.6"/><rect x="209.94" y="301.32" width="3.6" height="3.6"/><rect x="210.78" y="300.99" width="3.6" height="3.6"/><rect x="211.63" y="300.67" width="3.6" height="3.6"/><rect x="212.47" y="300.36" width="3.6" height="3.6"/><rect x="213.32" y="300.05" width="3.6" height="3.6"/><rect x="214.16" y="299.74" width="3.6" height="3.6"/><rect x="215.01" y="299.45" width="3.6" height="3.6"/><rect x="215.85" y="299.16" width="3.6" height="3.6"/><rect x="216.70" y="298.87" width="3.6" height="3.6"/><rect x="217.54" y="298.60" width="3.6" height="3.6"/><rect x="218.39" y="298.33" width="3.6" height="3.6"/><rect x="219.23" y="298.07" width="3.6" height="3.6"/><rect x="220.08" y="297.82" width="3.6" height="3.6"/><rect x="220.92" y="297.58" width="3.6" height="3.6"/><rect x="221.77" y="297.35" width="3.6" height="3.6"/><rect x="222.61" y="297.12" width="3.6" height="3.6"/><rect x="223.46" y="296.91" width="3.6" height="3.6"/><rect x="224.30" y="296.70" width="3.6" height="3.6"/><rect x="225.15" y="296.51" width="3.6" height="3.6"/></g>
<polyline fill="none" stroke="#7030A0" stroke-width="1.1" points="83.70,248.60 84.55,248.57 85.39,248.53 86.23,248.48 87.08,248.43 87.92,248.36 88.77,248.29 89.61,248.21 90.46,248.12 91.30,248.03 92.15,247.93 92.99,247.83 93.84,247.72 94.68,247.62 95.53,247.50 96.37,247.39 97.22,247.27 98.06,247.13 98.91,246.98 99.75,246.82 100.60,246.64 101.44,246.46 102.29,246.26 103.13,246.05 103.98,245.84 104.82,245.62 105.67,245.39 106.51,245.15 107.36,244.91 108.20,244.66 109.05,244.41 109.89,244.16 110.74,243.90 111.58,243.64 112.43,243.38 113.27,243.12 114.12,242.85 114.96,242.56 115.81,242.27 116.65,241.97 117.50,241.66 118.34,241.34 119.19,241.01 120.03,240.67 120.88,240.33 121.72,239.98 122.57,239.63 123.41,239.27 124.26,238.90 125.10,238.54 125.95,238.16 126.79,237.79 127.64,237.41 128.48,237.03 129.33,236.65 130.17,236.22 131.02,235.76 131.86,235.27 132.71,234.77 133.55,234.25 134.40,233.74 135.24,233.25 136.09,232.77 136.93,232.34 137.78,231.94 138.62,231.60 139.47,231.33 140.31,231.13 141.16,230.95 142.00,230.77 142.85,230.61 143.69,230.48 144.54,230.37 145.38,230.31 146.23,230.31 147.07,230.50 147.92,230.89 148.76,231.46 149.61,232.15 150.45,233.05 151.30,234.69 152.14,236.93 152.99,239.84 153.83,244.15 154.68,249.08 155.52,254.82 156.37,261.05 157.21,267.09 158.06,275.54 158.90,286.53 159.75,291.90 160.59,295.12 161.44,297.73 162.28,300.09 163.13,301.89 163.97,303.24 164.82,304.49 165.66,305.51 166.51,306.16 167.35,306.29 168.20,306.08 169.04,305.72 169.89,305.33 170.73,304.98 171.58,304.61 172.42,304.22 173.27,303.81 174.11,303.39 174.96,302.95 175.80,302.51 176.65,302.08 177.49,301.65 178.34,301.23 179.18,300.83 180.03,300.45 180.87,300.10 181.72,299.78 182.56,299.48 183.41,299.18 184.25,298.89 185.10,298.60 185.94,298.33 186.79,298.06 187.63,297.80 188.48,297.54 189.32,297.29 190.17,297.05 191.01,296.81 191.86,296.58 192.70,296.36 193.55,296.14 194.39,295.92 195.24,295.71 196.08,295.51 196.93,295.31 197.77,295.13 198.62,294.95 199.46,294.78 200.31,294.61 201.15,294.45 202.00,294.29 202.84,294.13 203.69,293.98 204.53,293.82 205.38,293.66 206.22,293.50 207.07,293.33 207.91,293.16 208.76,292.98 209.60,292.79 210.45,292.59 211.29,292.39 212.14,292.19 212.98,291.98 213.83,291.77 214.67,291.55 215.52,291.33 216.36,291.11 217.21,290.88 218.05,290.65 218.90,290.42 219.74,290.18 220.59,289.94 221.43,289.69 222.28,289.44 223.12,289.19 223.97,288.94 224.81,288.68 225.66,288.42 226.50,288.16"/>
<g fill="#7030A0"><circle cx="83.70" cy="248.60" r="2.0"/><circle cx="84.55" cy="248.57" r="2.0"/><circle cx="85.39" cy="248.53" r="2.0"/><circle cx="86.23" cy="248.48" r="2.0"/><circle cx="87.08" cy="248.43" r="2.0"/><circle cx="87.92" cy="248.36" r="2.0"/><circle cx="88.77" cy="248.29" r="2.0"/><circle cx="89.61" cy="248.21" r="2.0"/><circle cx="90.46" cy="248.12" r="2.0"/><circle cx="91.30" cy="248.03" r="2.0"/><circle cx="92.15" cy="247.93" r="2.0"/><circle cx="92.99" cy="247.83" r="2.0"/><circle cx="93.84" cy="247.72" r="2.0"/><circle cx="94.68" cy="247.62" r="2.0"/><circle cx="95.53" cy="247.50" r="2.0"/><circle cx="96.37" cy="247.39" r="2.0"/><circle cx="97.22" cy="247.27" r="2.0"/><circle cx="98.06" cy="247.13" r="2.0"/><circle cx="98.91" cy="246.98" r="2.0"/><circle cx="99.75" cy="246.82" r="2.0"/><circle cx="100.60" cy="246.64" r="2.0"/><circle cx="101.44" cy="246.46" r="2.0"/><circle cx="102.29" cy="246.26" r="2.0"/><circle cx="103.13" cy="246.05" r="2.0"/><circle cx="103.98" cy="245.84" r="2.0"/><circle cx="104.82" cy="245.62" r="2.0"/><circle cx="105.67" cy="245.39" r="2.0"/><circle cx="106.51" cy="245.15" r="2.0"/><circle cx="107.36" cy="244.91" r="2.0"/><circle cx="108.20" cy="244.66" r="2.0"/><circle cx="109.05" cy="244.41" r="2.0"/><circle cx="109.89" cy="244.16" r="2.0"/><circle cx="110.74" cy="243.90" r="2.0"/><circle cx="111.58" cy="243.64" r="2.0"/><circle cx="112.43" cy="243.38" r="2.0"/><circle cx="113.27" cy="243.12" r="2.0"/><circle cx="114.12" cy="242.85" r="2.0"/><circle cx="114.96" cy="242.56" r="2.0"/><circle cx="115.81" cy="242.27" r="2.0"/><circle cx="116.65" cy="241.97" r="2.0"/><circle cx="117.50" cy="241.66" r="2.0"/><circle cx="118.34" cy="241.34" r="2.0"/><circle cx="119.19" cy="241.01" r="2.0"/><circle cx="120.03" cy="240.67" r="2.0"/><circle cx="120.88" cy="240.33" r="2.0"/><circle cx="121.72" cy="239.98" r="2.0"/><circle cx="122.57" cy="239.63" r="2.0"/><circle cx="123.41" cy="239.27" r="2.0"/><circle cx="124.26" cy="238.90" r="2.0"/><circle cx="125.10" cy="238.54" r="2.0"/><circle cx="125.95" cy="238.16" r="2.0"/><circle cx="126.79" cy="237.79" r="2.0"/><circle cx="127.64" cy="237.41" r="2.0"/><circle cx="128.48" cy="237.03" r="2.0"/><circle cx="129.33" cy="236.65" r="2.0"/><circle cx="130.17" cy="236.22" r="2.0"/><circle cx="131.02" cy="235.76" r="2.0"/><circle cx="131.86" cy="235.27" r="2.0"/><circle cx="132.71" cy="234.77" r="2.0"/><circle cx="133.55" cy="234.25" r="2.0"/><circle cx="134.40" cy="233.74" r="2.0"/><circle cx="135.24" cy="233.25" r="2.0"/><circle cx="136.09" cy="232.77" r="2.0"/><circle cx="136.93" cy="232.34" r="2.0"/><circle cx="137.78" cy="231.94" r="2.0"/><circle cx="138.62" cy="231.60" r="2.0"/><circle cx="139.47" cy="231.33" r="2.0"/><circle cx="140.31" cy="231.13" r="2.0"/><circle cx="141.16" cy="230.95" r="2.0"/><circle cx="142.00" cy="230.77" r="2.0"/><circle cx="142.85" cy="230.61" r="2.0"/><circle cx="143.69" cy="230.48" r="2.0"/><circle cx="144.54" cy="230.37" r="2.0"/><circle cx="145.38" cy="230.31" r="2.0"/><circle cx="146.23" cy="230.31" r="2.0"/><circle cx="147.07" cy="230.50" r="2.0"/><circle cx="147.92" cy="230.89" r="2.0"/><circle cx="148.76" cy="231.46" r="2.0"/><circle cx="149.61" cy="232.15" r="2.0"/><circle cx="150.45" cy="233.05" r="2.0"/><circle cx="151.30" cy="234.69" r="2.0"/><circle cx="152.14" cy="236.93" r="2.0"/><circle cx="152.99" cy="239.84" r="2.0"/><circle cx="153.83" cy="244.15" r="2.0"/><circle cx="154.68" cy="249.08" r="2.0"/><circle cx="155.52" cy="254.82" r="2.0"/><circle cx="156.37" cy="261.05" r="2.0"/><circle cx="157.21" cy="267.09" r="2.0"/><circle cx="158.06" cy="275.54" r="2.0"/><circle cx="158.90" cy="286.53" r="2.0"/><circle cx="159.75" cy="291.90" r="2.0"/><circle cx="160.59" cy="295.12" r="2.0"/><circle cx="161.44" cy="297.73" r="2.0"/><circle cx="162.28" cy="300.09" r="2.0"/><circle cx="163.13" cy="301.89" r="2.0"/><circle cx="163.97" cy="303.24" r="2.0"/><circle cx="164.82" cy="304.49" r="2.0"/><circle cx="165.66" cy="305.51" r="2.0"/><circle cx="166.51" cy="306.16" r="2.0"/><circle cx="167.35" cy="306.29" r="2.0"/><circle cx="168.20" cy="306.08" r="2.0"/><circle cx="169.04" cy="305.72" r="2.0"/><circle cx="169.89" cy="305.33" r="2.0"/><circle cx="170.73" cy="304.98" r="2.0"/><circle cx="171.58" cy="304.61" r="2.0"/><circle cx="172.42" cy="304.22" r="2.0"/><circle cx="173.27" cy="303.81" r="2.0"/><circle cx="174.11" cy="303.39" r="2.0"/><circle cx="174.96" cy="302.95" r="2.0"/><circle cx="175.80" cy="302.51" r="2.0"/><circle cx="176.65" cy="302.08" r="2.0"/><circle cx="177.49" cy="301.65" r="2.0"/><circle cx="178.34" cy="301.23" r="2.0"/><circle cx="179.18" cy="300.83" r="2.0"/><circle cx="180.03" cy="300.45" r="2.0"/><circle cx="180.87" cy="300.10" r="2.0"/><circle cx="181.72" cy="299.78" r="2.0"/><circle cx="182.56" cy="299.48" r="2.0"/><circle cx="183.41" cy="299.18" r="2.0"/><circle cx="184.25" cy="298.89" r="2.0"/><circle cx="185.10" cy="298.60" r="2.0"/><circle cx="185.94" cy="298.33" r="2.0"/><circle cx="186.79" cy="298.06" r="2.0"/><circle cx="187.63" cy="297.80" r="2.0"/><circle cx="188.48" cy="297.54" r="2.0"/><circle cx="189.32" cy="297.29" r="2.0"/><circle cx="190.17" cy="297.05" r="2.0"/><circle cx="191.01" cy="296.81" r="2.0"/><circle cx="191.86" cy="296.58" r="2.0"/><circle cx="192.70" cy="296.36" r="2.0"/><circle cx="193.55" cy="296.14" r="2.0"/><circle cx="194.39" cy="295.92" r="2.0"/><circle cx="195.24" cy="295.71" r="2.0"/><circle cx="196.08" cy="295.51" r="2.0"/><circle cx="196.93" cy="295.31" r="2.0"/><circle cx="197.77" cy="295.13" r="2.0"/><circle cx="198.62" cy="294.95" r="2.0"/><circle cx="199.46" cy="294.78" r="2.0"/><circle cx="200.31" cy="294.61" r="2.0"/><circle cx="201.15" cy="294.45" r="2.0"/><circle cx="202.00" cy="294.29" r="2.0"/><circle cx="202.84" cy="294.13" r="2.0"/><circle cx="203.69" cy="293.98" r="2.0"/><circle cx="204.53" cy="293.82" r="2.0"/><circle cx="205.38" cy="293.66" r="2.0"/><circle cx="206.22" cy="293.50" r="2.0"/><circle cx="207.07" cy="293.33" r="2.0"/><circle cx="207.91" cy="293.16" r="2.0"/><circle cx="208.76" cy="292.98" r="2.0"/><circle cx="209.60" cy="292.79" r="2.0"/><circle cx="210.45" cy="292.59" r="2.0"/><circle cx="211.29" cy="292.39" r="2.0"/><circle cx="212.14" cy="292.19" r="2.0"/><circle cx="212.98" cy="291.98" r="2.0"/><circle cx="213.83" cy="291.77" r="2.0"/><circle cx="214.67" cy="291.55" r="2.0"/><circle cx="215.52" cy="291.33" r="2.0"/><circle cx="216.36" cy="291.11" r="2.0"/><circle cx="217.21" cy="290.88" r="2.0"/><circle cx="218.05" cy="290.65" r="2.0"/><circle cx="218.90" cy="290.42" r="2.0"/><circle cx="219.74" cy="290.18" r="2.0"/><circle cx="220.59" cy="289.94" r="2.0"/><circle cx="221.43" cy="289.69" r="2.0"/><circle cx="222.28" cy="289.44" r="2.0"/><circle cx="223.12" cy="289.19" r="2.0"/><circle cx="223.97" cy="288.94" r="2.0"/><circle cx="224.81" cy="288.68" r="2.0"/><circle cx="225.66" cy="288.42" r="2.0"/><circle cx="226.50" cy="288.16" r="2.0"/></g>
<polyline fill="none" stroke="#7030A0" stroke-width="1.1" points="83.70,249.40 84.55,249.40 85.39,249.38 86.23,249.37 87.08,249.34 87.92,249.31 88.77,249.28 89.61,249.24 90.46,249.19 91.30,249.14 92.15,249.09 92.99,249.03 93.84,248.98 94.68,248.92 95.53,248.86 96.37,248.79 97.22,248.72 98.06,248.64 98.91,248.54 99.75,248.43 100.60,248.31 101.44,248.18 102.29,248.03 103.13,247.88 103.98,247.73 104.82,247.56 105.67,247.39 106.51,247.22 107.36,247.04 108.20,246.86 109.05,246.68 109.89,246.50 110.74,246.31 111.58,246.13 112.43,245.96 113.27,245.78 114.12,245.61 114.96,245.43 115.81,245.25 116.65,245.08 117.50,244.89 118.34,244.71 119.19,244.52 120.03,244.33 120.88,244.13 121.72,243.93 122.57,243.71 123.41,243.49 124.26,243.27 125.10,243.03 125.95,242.78 126.79,242.53 127.64,242.26 128.48,241.98 129.33,241.68 130.17,241.32 131.02,240.90 131.86,240.44 132.71,239.94 133.55,239.41 134.40,238.88 135.24,238.35 136.09,237.83 136.93,237.34 137.78,236.89 138.62,236.50 139.47,236.17 140.31,235.91 141.16,235.66 142.00,235.43 142.85,235.26 143.69,235.20 144.54,235.39 145.38,235.92 146.23,236.68 147.07,237.59 147.92,239.15 148.76,241.35 149.61,243.71 150.45,246.55 151.30,250.69 152.14,257.75 152.99,271.60 153.83,281.64 154.68,289.02 155.52,294.62 156.37,298.33 157.21,301.16 158.06,303.43 158.90,305.46 159.75,307.00 160.59,307.81 161.44,308.41 162.28,308.90 163.13,309.23 163.97,309.39 164.82,309.40 165.66,309.40 166.51,309.40 167.35,309.40 168.20,309.33 169.04,309.19 169.89,308.98 170.73,308.72 171.58,308.40 172.42,308.04 173.27,307.65 174.11,307.23 174.96,306.79 175.80,306.35 176.65,305.90 177.49,305.45 178.34,305.02 179.18,304.61 180.03,304.23 180.87,303.89 181.72,303.59 182.56,303.31 183.41,303.03 184.25,302.75 185.10,302.48 185.94,302.21 186.79,301.95 187.63,301.69 188.48,301.44 189.32,301.19 190.17,300.94 191.01,300.70 191.86,300.46 192.70,300.22 193.55,299.99 194.39,299.75 195.24,299.52 196.08,299.30 196.93,299.08 197.77,298.87 198.62,298.67 199.46,298.47 200.31,298.28 201.15,298.10 202.00,297.91 202.84,297.72 203.69,297.53 204.53,297.34 205.38,297.14 206.22,296.94 207.07,296.72 207.91,296.50 208.76,296.27 209.60,296.02 210.45,295.76 211.29,295.49 212.14,295.20 212.98,294.91 213.83,294.60 214.67,294.28 215.52,293.95 216.36,293.62 217.21,293.27 218.05,292.91 218.90,292.54 219.74,292.17 220.59,291.78 221.43,291.39 222.28,290.99 223.12,290.58 223.97,290.16 224.81,289.73 225.66,289.30 226.50,288.86"/>
<g fill="#7030A0"><circle cx="83.70" cy="249.40" r="2.0"/><circle cx="84.55" cy="249.40" r="2.0"/><circle cx="85.39" cy="249.38" r="2.0"/><circle cx="86.23" cy="249.37" r="2.0"/><circle cx="87.08" cy="249.34" r="2.0"/><circle cx="87.92" cy="249.31" r="2.0"/><circle cx="88.77" cy="249.28" r="2.0"/><circle cx="89.61" cy="249.24" r="2.0"/><circle cx="90.46" cy="249.19" r="2.0"/><circle cx="91.30" cy="249.14" r="2.0"/><circle cx="92.15" cy="249.09" r="2.0"/><circle cx="92.99" cy="249.03" r="2.0"/><circle cx="93.84" cy="248.98" r="2.0"/><circle cx="94.68" cy="248.92" r="2.0"/><circle cx="95.53" cy="248.86" r="2.0"/><circle cx="96.37" cy="248.79" r="2.0"/><circle cx="97.22" cy="248.72" r="2.0"/><circle cx="98.06" cy="248.64" r="2.0"/><circle cx="98.91" cy="248.54" r="2.0"/><circle cx="99.75" cy="248.43" r="2.0"/><circle cx="100.60" cy="248.31" r="2.0"/><circle cx="101.44" cy="248.18" r="2.0"/><circle cx="102.29" cy="248.03" r="2.0"/><circle cx="103.13" cy="247.88" r="2.0"/><circle cx="103.98" cy="247.73" r="2.0"/><circle cx="104.82" cy="247.56" r="2.0"/><circle cx="105.67" cy="247.39" r="2.0"/><circle cx="106.51" cy="247.22" r="2.0"/><circle cx="107.36" cy="247.04" r="2.0"/><circle cx="108.20" cy="246.86" r="2.0"/><circle cx="109.05" cy="246.68" r="2.0"/><circle cx="109.89" cy="246.50" r="2.0"/><circle cx="110.74" cy="246.31" r="2.0"/><circle cx="111.58" cy="246.13" r="2.0"/><circle cx="112.43" cy="245.96" r="2.0"/><circle cx="113.27" cy="245.78" r="2.0"/><circle cx="114.12" cy="245.61" r="2.0"/><circle cx="114.96" cy="245.43" r="2.0"/><circle cx="115.81" cy="245.25" r="2.0"/><circle cx="116.65" cy="245.08" r="2.0"/><circle cx="117.50" cy="244.89" r="2.0"/><circle cx="118.34" cy="244.71" r="2.0"/><circle cx="119.19" cy="244.52" r="2.0"/><circle cx="120.03" cy="244.33" r="2.0"/><circle cx="120.88" cy="244.13" r="2.0"/><circle cx="121.72" cy="243.93" r="2.0"/><circle cx="122.57" cy="243.71" r="2.0"/><circle cx="123.41" cy="243.49" r="2.0"/><circle cx="124.26" cy="243.27" r="2.0"/><circle cx="125.10" cy="243.03" r="2.0"/><circle cx="125.95" cy="242.78" r="2.0"/><circle cx="126.79" cy="242.53" r="2.0"/><circle cx="127.64" cy="242.26" r="2.0"/><circle cx="128.48" cy="241.98" r="2.0"/><circle cx="129.33" cy="241.68" r="2.0"/><circle cx="130.17" cy="241.32" r="2.0"/><circle cx="131.02" cy="240.90" r="2.0"/><circle cx="131.86" cy="240.44" r="2.0"/><circle cx="132.71" cy="239.94" r="2.0"/><circle cx="133.55" cy="239.41" r="2.0"/><circle cx="134.40" cy="238.88" r="2.0"/><circle cx="135.24" cy="238.35" r="2.0"/><circle cx="136.09" cy="237.83" r="2.0"/><circle cx="136.93" cy="237.34" r="2.0"/><circle cx="137.78" cy="236.89" r="2.0"/><circle cx="138.62" cy="236.50" r="2.0"/><circle cx="139.47" cy="236.17" r="2.0"/><circle cx="140.31" cy="235.91" r="2.0"/><circle cx="141.16" cy="235.66" r="2.0"/><circle cx="142.00" cy="235.43" r="2.0"/><circle cx="142.85" cy="235.26" r="2.0"/><circle cx="143.69" cy="235.20" r="2.0"/><circle cx="144.54" cy="235.39" r="2.0"/><circle cx="145.38" cy="235.92" r="2.0"/><circle cx="146.23" cy="236.68" r="2.0"/><circle cx="147.07" cy="237.59" r="2.0"/><circle cx="147.92" cy="239.15" r="2.0"/><circle cx="148.76" cy="241.35" r="2.0"/><circle cx="149.61" cy="243.71" r="2.0"/><circle cx="150.45" cy="246.55" r="2.0"/><circle cx="151.30" cy="250.69" r="2.0"/><circle cx="152.14" cy="257.75" r="2.0"/><circle cx="152.99" cy="271.60" r="2.0"/><circle cx="153.83" cy="281.64" r="2.0"/><circle cx="154.68" cy="289.02" r="2.0"/><circle cx="155.52" cy="294.62" r="2.0"/><circle cx="156.37" cy="298.33" r="2.0"/><circle cx="157.21" cy="301.16" r="2.0"/><circle cx="158.06" cy="303.43" r="2.0"/><circle cx="158.90" cy="305.46" r="2.0"/><circle cx="159.75" cy="307.00" r="2.0"/><circle cx="160.59" cy="307.81" r="2.0"/><circle cx="161.44" cy="308.41" r="2.0"/><circle cx="162.28" cy="308.90" r="2.0"/><circle cx="163.13" cy="309.23" r="2.0"/><circle cx="163.97" cy="309.39" r="2.0"/><circle cx="164.82" cy="309.40" r="2.0"/><circle cx="165.66" cy="309.40" r="2.0"/><circle cx="166.51" cy="309.40" r="2.0"/><circle cx="167.35" cy="309.40" r="2.0"/><circle cx="168.20" cy="309.33" r="2.0"/><circle cx="169.04" cy="309.19" r="2.0"/><circle cx="169.89" cy="308.98" r="2.0"/><circle cx="170.73" cy="308.72" r="2.0"/><circle cx="171.58" cy="308.40" r="2.0"/><circle cx="172.42" cy="308.04" r="2.0"/><circle cx="173.27" cy="307.65" r="2.0"/><circle cx="174.11" cy="307.23" r="2.0"/><circle cx="174.96" cy="306.79" r="2.0"/><circle cx="175.80" cy="306.35" r="2.0"/><circle cx="176.65" cy="305.90" r="2.0"/><circle cx="177.49" cy="305.45" r="2.0"/><circle cx="178.34" cy="305.02" r="2.0"/><circle cx="179.18" cy="304.61" r="2.0"/><circle cx="180.03" cy="304.23" r="2.0"/><circle cx="180.87" cy="303.89" r="2.0"/><circle cx="181.72" cy="303.59" r="2.0"/><circle cx="182.56" cy="303.31" r="2.0"/><circle cx="183.41" cy="303.03" r="2.0"/><circle cx="184.25" cy="302.75" r="2.0"/><circle cx="185.10" cy="302.48" r="2.0"/><circle cx="185.94" cy="302.21" r="2.0"/><circle cx="186.79" cy="301.95" r="2.0"/><circle cx="187.63" cy="301.69" r="2.0"/><circle cx="188.48" cy="301.44" r="2.0"/><circle cx="189.32" cy="301.19" r="2.0"/><circle cx="190.17" cy="300.94" r="2.0"/><circle cx="191.01" cy="300.70" r="2.0"/><circle cx="191.86" cy="300.46" r="2.0"/><circle cx="192.70" cy="300.22" r="2.0"/><circle cx="193.55" cy="299.99" r="2.0"/><circle cx="194.39" cy="299.75" r="2.0"/><circle cx="195.24" cy="299.52" r="2.0"/><circle cx="196.08" cy="299.30" r="2.0"/><circle cx="196.93" cy="299.08" r="2.0"/><circle cx="197.77" cy="298.87" r="2.0"/><circle cx="198.62" cy="298.67" r="2.0"/><circle cx="199.46" cy="298.47" r="2.0"/><circle cx="200.31" cy="298.28" r="2.0"/><circle cx="201.15" cy="298.10" r="2.0"/><circle cx="202.00" cy="297.91" r="2.0"/><circle cx="202.84" cy="297.72" r="2.0"/><circle cx="203.69" cy="297.53" r="2.0"/><circle cx="204.53" cy="297.34" r="2.0"/><circle cx="205.38" cy="297.14" r="2.0"/><circle cx="206.22" cy="296.94" r="2.0"/><circle cx="207.07" cy="296.72" r="2.0"/><circle cx="207.91" cy="296.50" r="2.0"/><circle cx="208.76" cy="296.27" r="2.0"/><circle cx="209.60" cy="296.02" r="2.0"/><circle cx="210.45" cy="295.76" r="2.0"/><circle cx="211.29" cy="295.49" r="2.0"/><circle cx="212.14" cy="295.20" r="2.0"/><circle cx="212.98" cy="294.91" r="2.0"/><circle cx="213.83" cy="294.60" r="2.0"/><circle cx="214.67" cy="294.28" r="2.0"/><circle cx="215.52" cy="293.95" r="2.0"/><circle cx="216.36" cy="293.62" r="2.0"/><circle cx="217.21" cy="293.27" r="2.0"/><circle cx="218.05" cy="292.91" r="2.0"/><circle cx="218.90" cy="292.54" r="2.0"/><circle cx="219.74" cy="292.17" r="2.0"/><circle cx="220.59" cy="291.78" r="2.0"/><circle cx="221.43" cy="291.39" r="2.0"/><circle cx="222.28" cy="290.99" r="2.0"/><circle cx="223.12" cy="290.58" r="2.0"/><circle cx="223.97" cy="290.16" r="2.0"/><circle cx="224.81" cy="289.73" r="2.0"/><circle cx="225.66" cy="289.30" r="2.0"/><circle cx="226.50" cy="288.86" r="2.0"/></g>
<line x1="162.3" y1="218.3" x2="178.7" y2="218.3" stroke="#00B050" stroke-width="1.2"/><rect x="168" y="216.3" width="4" height="4" fill="#00B050"/>
<line x1="162.3" y1="240.2" x2="178.7" y2="240.2" stroke="#7030A0" stroke-width="1.2"/><circle cx="170.5" cy="240.2" r="2.2" fill="#7030A0"/>
<text x="180.00" y="223.40" text-anchor="start" font-family="Liberation Serif" font-size="15.5" fill="#000" >3.2mA</text>
<text x="180.00" y="245.60" text-anchor="start" font-family="Liberation Serif" font-size="15.5" fill="#000" >2.0mA</text>
<g transform="translate(12.8,291.2) rotate(-90)" font-family="Liberation Sans" fill="#000"><text x="0" y="0" font-size="12.2" font-style="italic">R</text><text x="9.2" y="3.1" font-size="8">H</text><text x="11.7" y="-5.6" font-size="8">2ω</text><text x="29" y="0.3" font-size="13">(mΩ)</text></g>
<g font-family="Liberation Serif" fill="#000"><text x="134.6" y="386.7" font-size="16" font-style="italic">H</text><text x="144.5" y="389.7" font-size="14">x</text><text x="153.8" y="387" font-size="16">(kOe)</text></g>
<line x1="306.4" y1="307.77" x2="310.7" y2="307.77" stroke="#595959" stroke-width="1.2"/>
<line x1="306.4" y1="271.15" x2="310.7" y2="271.15" stroke="#595959" stroke-width="1.2"/>
<line x1="306.4" y1="234.53" x2="310.7" y2="234.53" stroke="#595959" stroke-width="1.2"/>
<line x1="364.00" y1="344.4" x2="364.00" y2="340.09999999999997" stroke="#595959" stroke-width="1.2"/>
<line x1="421.60" y1="344.4" x2="421.60" y2="340.09999999999997" stroke="#595959" stroke-width="1.2"/>
<rect x="306.4" y="197.9" width="172.80" height="146.50" fill="none" stroke="#595959" stroke-width="1.5"/>
<text x="292.60" y="203.10" text-anchor="end" font-family="Liberation Serif" font-size="15" fill="#595959" >70</text>
<text x="292.60" y="239.72" text-anchor="end" font-family="Liberation Serif" font-size="15" fill="#595959" >60</text>
<text x="292.60" y="276.35" text-anchor="end" font-family="Liberation Serif" font-size="15" fill="#595959" >50</text>
<text x="292.60" y="312.97" text-anchor="end" font-family="Liberation Serif" font-size="15" fill="#595959" >40</text>
<text x="292.60" y="349.60" text-anchor="end" font-family="Liberation Serif" font-size="15" fill="#595959" >30</text>
<text x="306.40" y="368.10" text-anchor="middle" font-family="Liberation Serif" font-size="15" fill="#595959" >0.4</text>
<text x="364.00" y="368.10" text-anchor="middle" font-family="Liberation Serif" font-size="15" fill="#595959" >0.5</text>
<text x="421.60" y="368.10" text-anchor="middle" font-family="Liberation Serif" font-size="15" fill="#595959" >0.6</text>
<text x="479.20" y="368.10" text-anchor="middle" font-family="Liberation Serif" font-size="15" fill="#595959" >0.7</text>
<line x1="306.4" y1="305.8" x2="462.6" y2="197.9" stroke="#4472C4" stroke-width="1.0" stroke-dasharray="1 1.1"/>
<g fill="#4472C4"><circle cx="309.4" cy="313.8" r="4.3"/><circle cx="333.1" cy="290.7" r="4.3"/><circle cx="356.3" cy="259.6" r="4.3"/><circle cx="380.0" cy="243.3" r="4.3"/><circle cx="403.3" cy="235.3" r="4.3"/><circle cx="426.9" cy="228.9" r="4.3"/><circle cx="450.1" cy="212.1" r="4.3"/></g>
<g transform="translate(265,294.2) rotate(-90)" font-family="Liberation Serif" fill="#000"><text x="-0.8" y="0" font-size="16.3" font-style="italic">H</text><text x="10.3" y="3.5" font-size="11">AD</text><text x="28.4" y="0" font-size="16.3">(Oe)</text></g>
<g font-family="Liberation Serif" fill="#000"><text x="343.2" y="385.8" font-size="16" font-style="italic">J</text><text x="352" y="389.6" font-size="10.8">BiSb</text><text x="377" y="386.2" font-size="15.6">(MA/cm²)</text></g>
<g font-family="Liberation Serif" fill="#000"><text x="313.6" y="223.4" font-size="16" font-style="italic">θ</text><text x="323.5" y="217.2" font-size="12" letter-spacing="0.6">eff</text><text x="322.7" y="227.9" font-size="11.5">SH</text><rect x="343.7" y="217.0" width="11.2" height="1.1" fill="#222"/><rect x="343.7" y="220.7" width="11.2" height="1.1" fill="#222"/><text x="359.5" y="224.3" font-size="16.5">2.4</text></g></svg>
</body></html>
